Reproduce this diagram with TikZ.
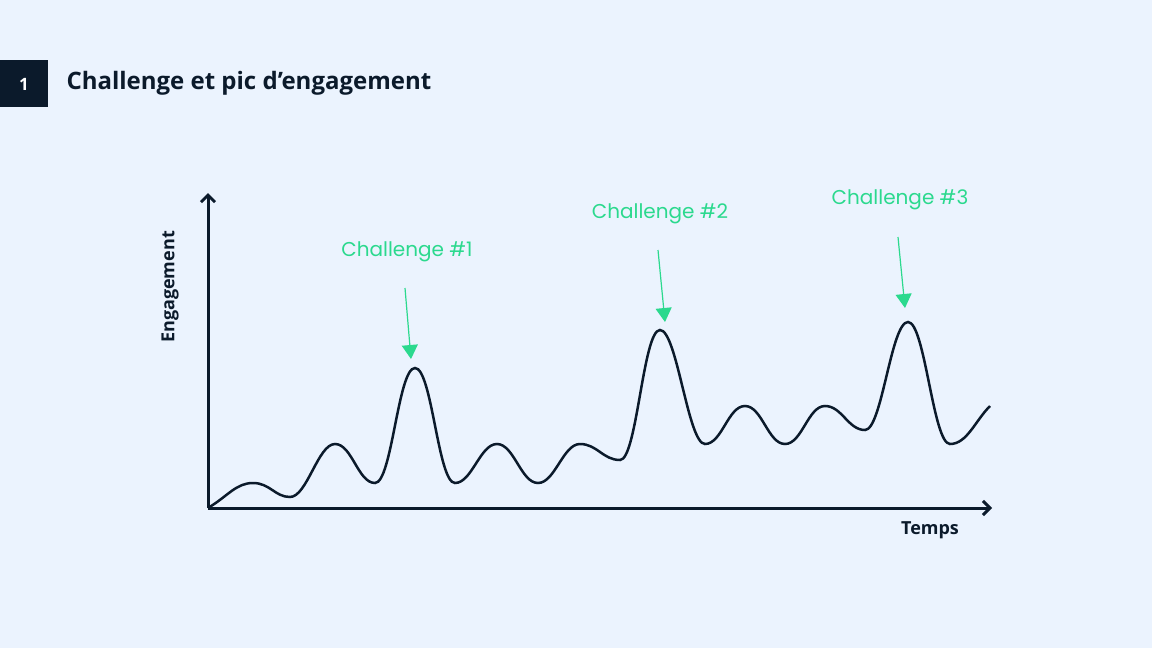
\documentclass[tikz,border=0pt]{standalone}
\usepackage{fontspec}
\setmainfont{Open Sans}
\newfontfamily\hand{Poppins}
\usetikzlibrary{arrows.meta}
\definecolor{bg}{HTML}{EBF3FE}
\definecolor{ink}{HTML}{0B1A2B}
\definecolor{grn}{HTML}{2BD98E}
\tikzset{axis/.style={line width=3pt,ink,-{Straight Barb[length=7pt,width=14pt,line width=3pt]}},
curve/.style={line width=2.5pt,ink},
chal/.style={grn,font=\hand\fontsize{20}{20}\selectfont},
garrow/.style={grn,line width=1.2pt,-{Triangle[length=14pt,width=16pt]}}}
\begin{document}
\begin{tikzpicture}[x=1pt,y=-1pt]
\fill[bg] (0,0) rectangle (1152,648);
\useasboundingbox (0,0) rectangle (1152,648);
\fill[ink] (0,60) rectangle (48,107);
\node[white,font=\bfseries\fontsize{17}{17}\selectfont] (num) at (24,84) {1};
\node[ink,anchor=west,font=\fontsize{24}{24}\selectfont\bfseries] (title) at (63,83) {Challenge et pic d’engagement};
\coordinate (o) at (208,508);
\coordinate (yt) at (208,193);
\coordinate (xt) at (992,508);
\draw[axis] (o) -- (yt);
\draw[axis] (o) -- (xt);
\node[ink,rotate=90,font=\bfseries\fontsize{18}{18}\selectfont] (ylab) at (170,287) {Engagement};
\node[ink,font=\bfseries\fontsize{18}{18}\selectfont] (xlab) at (930,530) {Temps};
\draw[curve] (o) .. controls +(20,-12) and +(-17,0) .. (253,483)
 .. controls +(17,0) and +(-15,0) .. (290,497)
 .. controls +(17,0) and +(-17,0) .. (335,444)
 .. controls +(17,0) and +(-17,0) .. (375,483)
 .. controls +(17,0) and +(-17,0) .. (415,368)
 .. controls +(17,0) and +(-17,0) .. (455,483)
 .. controls +(17,0) and +(-17,0) .. (497,444)
 .. controls +(17,0) and +(-17,0) .. (538,483)
 .. controls +(17,0) and +(-17,0) .. (580,444)
 .. controls +(17,0) and +(-17,0) .. (620,460)
 .. controls +(17,0) and +(-17,0) .. (660,330)
 .. controls +(17,0) and +(-17,0) .. (705,444)
 .. controls +(17,0) and +(-17,0) .. (745,406)
 .. controls +(17,0) and +(-17,0) .. (785,444)
 .. controls +(17,0) and +(-17,0) .. (825,406)
 .. controls +(17,0) and +(-17,0) .. (865,430)
 .. controls +(17,0) and +(-17,0) .. (908,322)
 .. controls +(17,0) and +(-17,0) .. (950,444)
 .. controls +(17,0) and +(-15,15) .. (990,406);
\node[chal] (c1) at (407,252) {Challenge \#1};
\node[chal] (c2) at (660,214) {Challenge \#2};
\node[chal] (c3) at (900,200) {Challenge \#3};
\coordinate (a1s) at (405,288); \coordinate (a1e) at (411,359);
\coordinate (a2s) at (658,250); \coordinate (a2e) at (665,322);
\coordinate (a3s) at (898,237); \coordinate (a3e) at (905,308);
\draw[garrow] (a1s) -- (a1e);
\draw[garrow] (a2s) -- (a2e);
\draw[garrow] (a3s) -- (a3e);
\end{tikzpicture}
\end{document}
